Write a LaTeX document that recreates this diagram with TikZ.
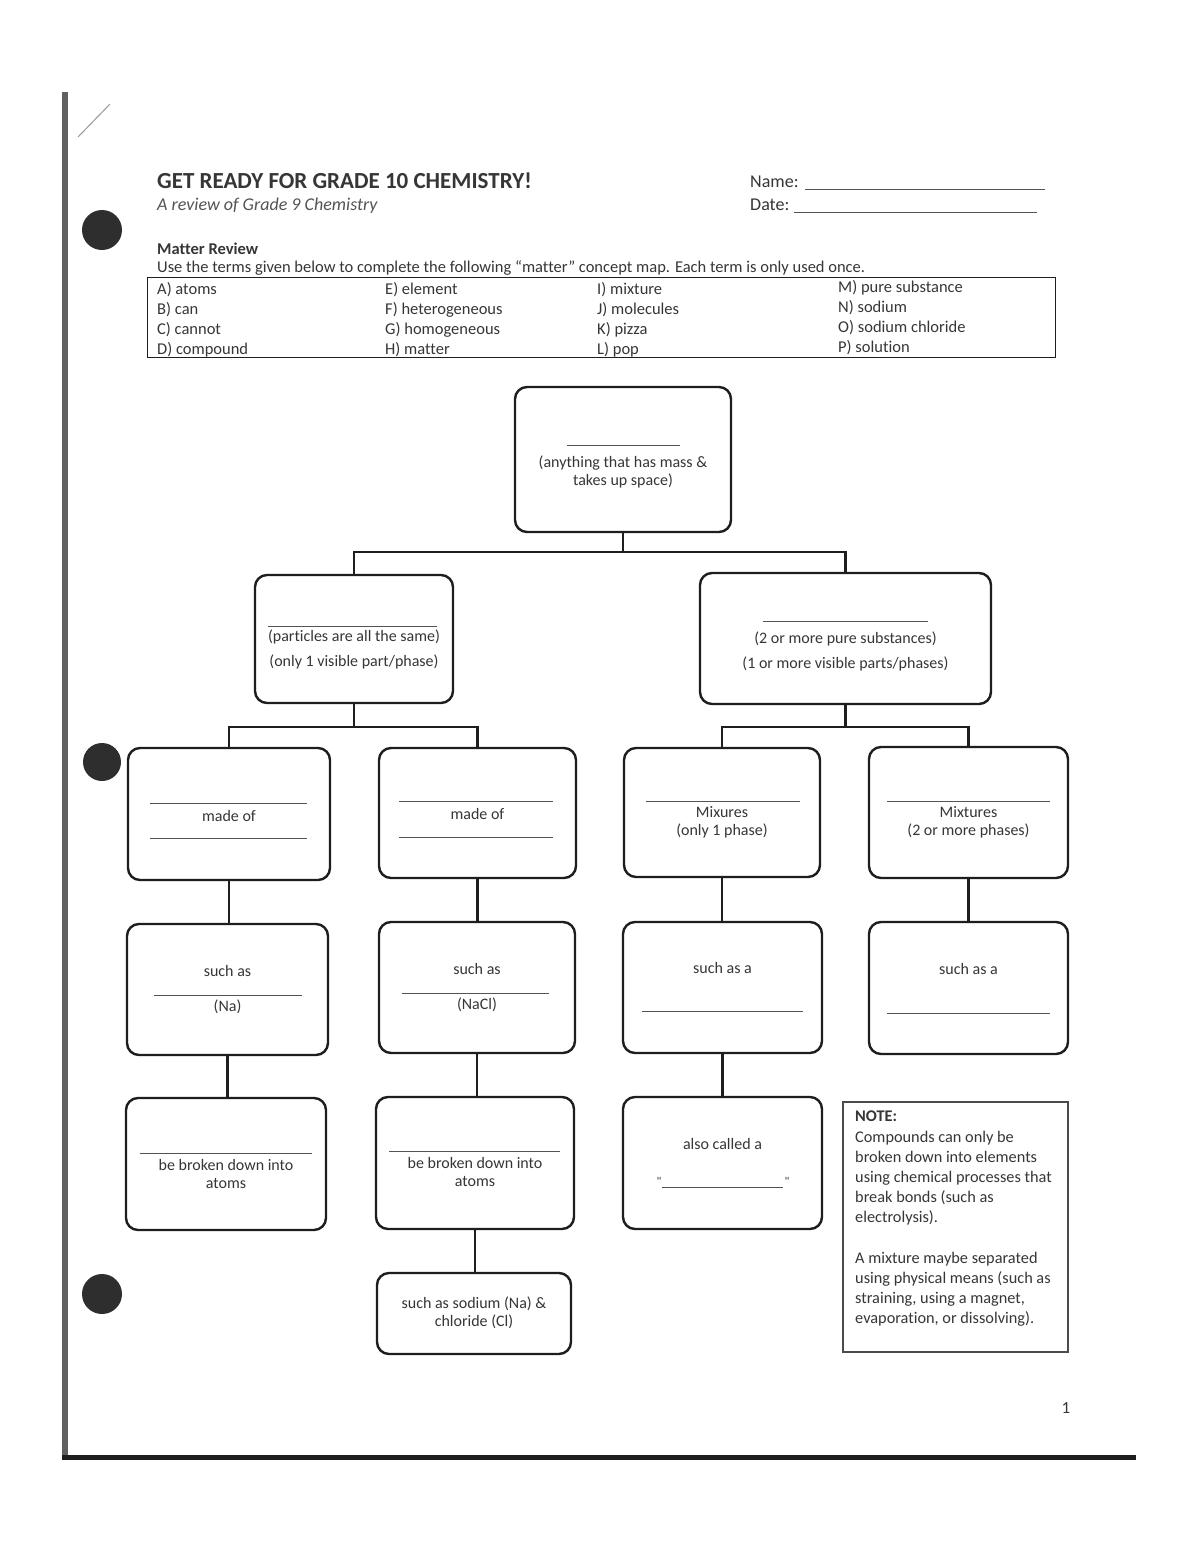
\documentclass[tikz,border=0pt]{standalone}
\usepackage{fontspec}
\setmainfont{Carlito}[Ligatures={TeX,NoCommon}]
\newfontfamily\qfont{Carlito}
\definecolor{ink}{HTML}{363636}
\definecolor{edge}{HTML}{1E1E1E}
\definecolor{hole}{HTML}{2E2E2E}
\tikzset{
  box/.style={draw=edge, line width=2.4pt, rounded corners=12pt, inner sep=0pt},
  conn/.style={draw=edge, line width=2.2pt},
  blank/.style={draw=ink!85, line width=1pt},
  bt/.style={text=ink, font=\fontsize{16}{18}\selectfont, align=center, inner sep=0pt},
  tt/.style={text=ink, font=\fontsize{16.5}{19}\selectfont, anchor=west, inner sep=0pt},
  ht/.style={text=ink, anchor=west, inner sep=0pt},
}
\begin{document}
\begin{tikzpicture}[x=1pt,y=-1pt]
\useasboundingbox (0,0) rectangle (1200,1553);
\fill[white] (0,0) rectangle (1200,1553);

% page edges and holes
\fill[gray!75!black] (62,92) rectangle (68,1460);
\fill[edge] (62,1455) rectangle (1136,1460);
\draw[gray!80, line width=1pt] (78,137) -- (110,104);
\fill[hole] (102,230) circle (20pt);
\fill[hole] (102,762) circle (19pt);
\fill[hole] (102,1294) circle (20pt);

% header
\node[ht, font=\bfseries\fontsize{23}{26}\selectfont] (title) at (157,181) {GET READY FOR GRADE 10 CHEMISTRY!};
\node[ht, text=ink!85, font=\itshape\fontsize{18}{21}\selectfont] (sub) at (157,206) {A review of Grade 9 Chemistry};
\node[ht, font=\fontsize{18}{21}\selectfont] (name) at (750,182) {Name:};
\draw[blank] (805,189) -- (1045,189);
\node[ht, font=\fontsize{18}{21}\selectfont] (date) at (750,205) {Date:};
\draw[blank] (794,212) -- (1037,212);
\node[ht, font=\bfseries\fontsize{16.5}{19}\selectfont] (mr) at (157,249) {Matter Review};
\node[ht, font=\fontsize{16.5}{19}\selectfont] (instr) at (157,268) {Use the terms given below to complete the following “matter” concept map. Each term is only used once.};

% terms box
\node[draw=edge, line width=1pt, minimum width=908pt, minimum height=80pt, inner sep=0pt] (terms) at (601,317) {};
\node[tt] (ta) at (157,290) {A) atoms};
\node[tt] (tb) at (157,310) {B) can};
\node[tt] (tc) at (157,330) {C) cannot};
\node[tt] (td) at (157,350) {D) compound};
\node[tt] (te) at (385,290) {E) element};
\node[tt] (tf) at (385,310) {F) heterogeneous};
\node[tt] (tg) at (385,330) {G) homogeneous};
\node[tt] (th) at (385,350) {H) matter};
\node[tt] (ti) at (597,290) {I) mixture};
\node[tt] (tj) at (597,310) {J) molecules};
\node[tt] (tk) at (597,330) {K) pizza};
\node[tt] (tl) at (597,350) {L) pop};
\node[tt] (tm) at (838,288) {M) pure substance};
\node[tt] (tn) at (838,308) {N) sodium};
\node[tt] (to) at (838,328) {O) sodium chloride};
\node[tt] (tp) at (838,348) {P) solution};

% level 1
\node[box, minimum width=216pt, minimum height=145pt] (matter) at (623,459.5) {};
\draw[blank] (567,445) -- (680,445);
\node[bt] (matterT) at (623,472) {(anything that has mass \&\\takes up space)};

% level 2
\node[box, minimum width=198pt, minimum height=128pt] (pure) at (354,639) {};
\draw[blank] (268,626) -- (437,626);
\node[bt, font=\fontsize{16}{25}\selectfont] (pureT) at (354,649.5) {(particles are all the same)\\(only 1 visible part/phase)};
\node[box, minimum width=291pt, minimum height=131pt] (mix) at (845.5,638.5) {};
\draw[blank] (763,621) -- (928,621);
\node[bt, font=\fontsize{16}{25}\selectfont] (mixT) at (845.5,651.5) {(2 or more pure substances)\\(1 or more visible parts/phases)};

% level 3
\node[box, minimum width=202pt, minimum height=132pt] (elem) at (229,814) {};
\draw[blank] (150,803) -- (307,803);
\draw[blank] (150,838) -- (307,838);
\node[bt] (elemT) at (229,815.5) {made of};
\node[box, minimum width=197pt, minimum height=130pt] (comp) at (477.5,813) {};
\draw[blank] (399,801) -- (553,801);
\draw[blank] (399,837) -- (553,837);
\node[bt] (compT) at (477.5,813.5) {made of};
\node[box, minimum width=196pt, minimum height=129pt] (homo) at (722,812.5) {};
\draw[blank] (646,801) -- (800,801);
\node[bt] (homoT) at (722,822) {Mixures\\(only 1 phase)};
\node[box, minimum width=199pt, minimum height=131pt] (hetero) at (968.5,812.5) {};
\draw[blank] (887,801) -- (1050,801);
\node[bt] (heteroT) at (968.5,822) {Mixtures\\(2 or more phases)};

% level 4
\node[box, minimum width=201pt, minimum height=131pt] (ex1) at (227.5,989.5) {};
\node[bt] (ex1a) at (227.5,971) {such as};
\draw[blank] (154,995) -- (302,995);
\node[bt] (ex1b) at (227.5,1007) {(Na)};
\node[box, minimum width=196pt, minimum height=131pt] (ex2) at (477,987.5) {};
\node[bt] (ex2a) at (477,969) {such as};
\draw[blank] (402,993) -- (549,993);
\node[bt] (ex2b) at (477,1005) {(NaCl)};
\node[box, minimum width=199pt, minimum height=131pt] (ex3) at (722.5,987.5) {};
\node[bt] (ex3a) at (722.5,968) {such as a};
\draw[blank] (642,1011) -- (803,1011);
\node[box, minimum width=199pt, minimum height=132pt] (ex4) at (968.5,988) {};
\node[bt] (ex4a) at (968.5,969) {such as a};
\draw[blank] (887,1013) -- (1050,1013);

% level 5
\node[box, minimum width=200pt, minimum height=132pt] (br1) at (226,1164) {};
\draw[blank] (140,1153) -- (312,1153);
\node[bt] (br1T) at (226,1174) {be broken down into\\atoms};
\node[box, minimum width=198pt, minimum height=132pt] (br2) at (475,1163) {};
\draw[blank] (389,1151) -- (560,1151);
\node[bt] (br2T) at (475,1172) {be broken down into\\atoms};
\node[box, minimum width=199pt, minimum height=132pt] (also) at (722.5,1163) {};
\node[bt] (alsoT) at (722.5,1144) {also called a};
\node[bt, font=\qfont\fontsize{12}{14}\selectfont] (q1) at (659,1181) {"};
\node[bt, font=\qfont\fontsize{12}{14}\selectfont] (q2) at (787,1181) {"};
\draw[blank] (662,1187) -- (783,1187);

% note
\node[draw=edge!80, line width=1.1pt, minimum width=225pt, minimum height=250pt, inner sep=0pt] (note) at (955.5,1227) {};
\node[text=ink, anchor=north west, align=left, inner sep=0pt, font=\fontsize{16.3}{20.2}\selectfont] (noteT) at (855,1111) {\textbf{NOTE:}\\Compounds can only be\\broken down into elements\\using chemical processes that\\break bonds (such as\\electrolysis).\\[20.2pt]A mixture maybe separated\\using physical means (such as\\straining, using a magnet,\\evaporation, or dissolving).};

% level 6
\node[box, minimum width=194pt, minimum height=81pt] (ex5) at (474,1313.5) {};
\node[bt] (ex5T) at (474,1313) {such as sodium (Na) \&\\chloride (Cl)};

% page number
\node[text=ink, font=\fontsize{17}{20}\selectfont, inner sep=0pt] (pg) at (1066,1408) {1};

% connectors
\coordinate (j1) at (623,552);
\coordinate (j2) at (354,727);
\coordinate (j3) at (845.5,727);
\draw[conn] (matter.south) -- (j1);
\draw[conn] (pure.north) |- (j1) -| (mix.north);
\draw[conn] (pure.south) -- (j2);
\draw[conn] (elem.north) |- (j2) -| (comp.north);
\draw[conn] (mix.south) -- (j3);
\draw[conn] (homo.north) |- (j3) -| (hetero.north);
\draw[conn] (elem.south) -- (elem.south |- ex1.north);
\draw[conn] (comp.south) -- (comp.south |- ex2.north);
\draw[conn] (homo.south) -- (homo.south |- ex3.north);
\draw[conn] (hetero.south) -- (hetero.south |- ex4.north);
\draw[conn] (ex1.south) -- (ex1.south |- br1.north);
\draw[conn] (ex2.south) -- (ex2.south |- br2.north);
\draw[conn] (ex3.south) -- (ex3.south |- also.north);
\draw[conn] (br2.south) -- (br2.south |- ex5.north);
\end{tikzpicture}
\end{document}
